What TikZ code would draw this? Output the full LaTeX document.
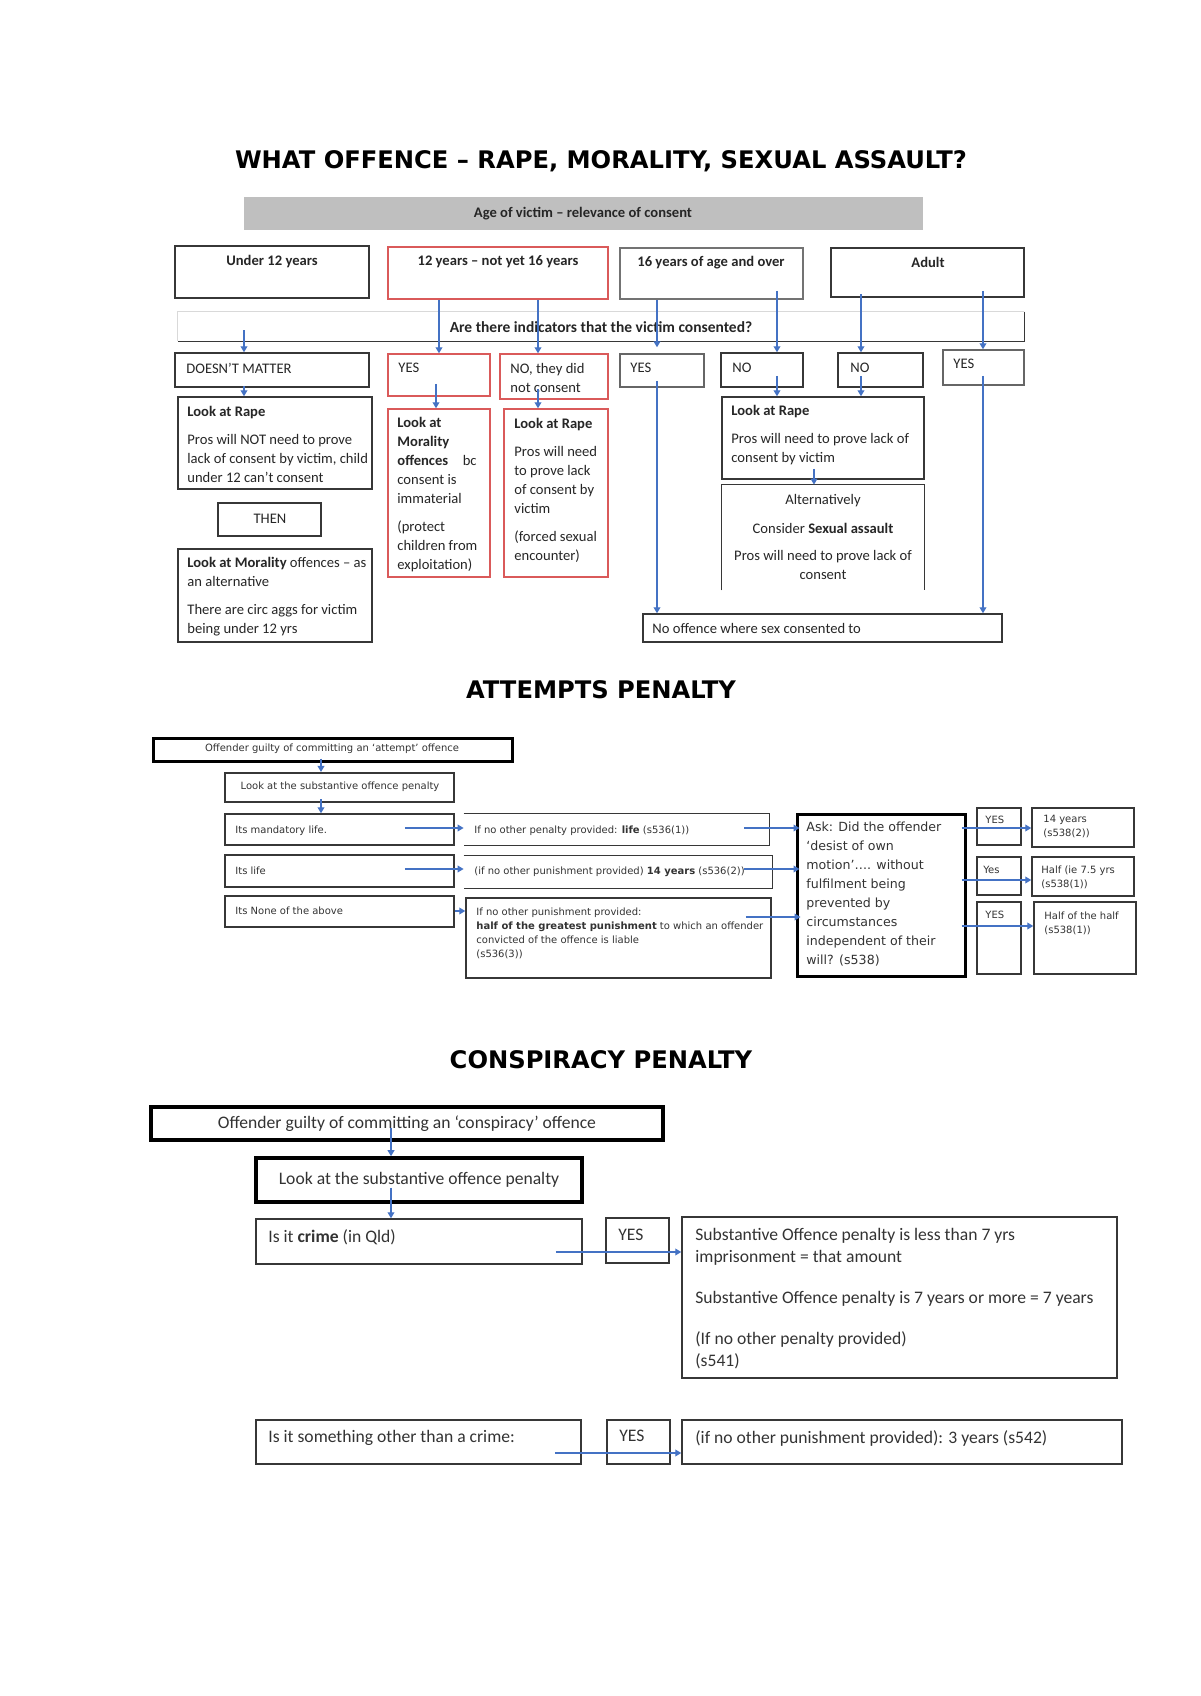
\documentclass[tikz,border=0pt]{standalone}
\usepackage{fontspec}
\setmainfont{Carlito}
\newfontfamily\dvs{DejaVu Sans}
\usetikzlibrary{arrows.meta,fit,calc}
\definecolor{bline}{RGB}{55,55,55}
\definecolor{rline}{RGB}{218,90,90}
\definecolor{ablue}{RGB}{68,114,196}
\definecolor{gfill}{RGB}{191,191,191}
\begin{document}
\begin{tikzpicture}[x=0.5pt,y=-0.5pt,
  bx/.style={draw=bline,line width=0.75pt,inner sep=0pt},
  tbx/.style={draw=black,line width=1.5pt,inner sep=0pt},
  rbx/.style={draw=rline,line width=0.75pt,inner sep=0pt},
  arr/.style={draw=ablue,line width=0.6pt,-{Triangle[width=3.4pt,length=3pt]}},
  ta/.style={inner sep=0pt,anchor=north west,align=left,font=\fontsize{7.3}{9.5}\selectfont,text=black!85},
  tc/.style={ta,anchor=north,align=center},
  da/.style={inner sep=0pt,anchor=north west,align=left,font=\dvs\fontsize{5}{7}\selectfont,text=black!80},
  ca/.style={inner sep=0pt,anchor=north west,align=left,font=\fontsize{8.8}{11}\selectfont,text=black!80},
  ttl/.style={inner sep=0pt,font=\dvs\bfseries\fontsize{12.1}{14}\selectfont}
]
\useasboundingbox (0,0) rectangle (1200,1696);
\fill[white] (0,0) rectangle (1200,1696);

% ---------- x / y markers ----------
\coordinate (X244) at (244,0);
\coordinate (X436) at (436,0);
\coordinate (X538) at (538,0);
\coordinate (X657) at (657,0);
\coordinate (X777) at (777,0);
\coordinate (X814) at (814,0);
\coordinate (X861) at (861,0);
\coordinate (X983) at (983,0);
\coordinate (X321) at (321,0);
\coordinate (X391) at (391,0);
\coordinate (Y828) at (0,828);
\coordinate (Y869) at (0,869);
\coordinate (Y880) at (0,880);
\coordinate (Y911) at (0,911);
\coordinate (Y917) at (0,917);
\coordinate (Y926) at (0,926);
\coordinate (Y1252) at (0,1252);
\coordinate (Y1453) at (0,1453);

% ================= SECTION 1 =================
\node[ttl] (t1) at (601,161) {WHAT OFFENCE – RAPE, MORALITY, SEXUAL ASSAULT?};

\node[fill=gfill,inner sep=0pt,fit={(244,197)(923,230)}] (age) {};
\node[tc] (aget) at (583,207) {\textbf{Age of victim – relevance of consent}};

\node[bx,fit={(175,246)(369,298)}] (u12) {};
\node[tc] (u12t) at (272,255) {\textbf{Under 12 years}};
\node[rbx,fit={(388,247)(608,299)}] (a12) {};
\node[tc] (a12t) at (498,255) {\textbf{12 years – not yet 16 years}};
\node[bx,draw=black!55,fit={(620,248)(803,299)}] (a16) {};
\node[tc] (a16t) at (711,256) {\textbf{16 years of age and over}};
\node[bx,fit={(831,248)(1024,297)}] (adult) {};
\node[tc] (adultt) at (928,257) {\textbf{Adult}};

\node[inner sep=0pt,fit={(178,312)(1024,341)}] (band) {};
\draw[black!15,line width=0.6pt] (band.south west) -- (band.north west) -- (band.north east);
\draw[bline,line width=0.75pt] (band.north east) -- (band.south east) -- (band.south west);
\node[tc,font=\fontsize{7.75}{9.5}\selectfont] (bandt) at (601,321) {\textbf{Are there indicators that the victim consented?}};

\node[bx,fit={(175,353)(369,387)}] (dm) {};
\node[ta] (dmt) at (186,363) {DOESN’T MATTER};
\node[rbx,fit={(388,354)(490,396)}] (yesA) {};
\node[ta] (yesAt) at (398,363) {YES};
\node[rbx,fit={(500,354)(608,399)}] (noA) {};
\node[ta] (noAt) at (510,363) {NO, they did\\not consent};
\node[bx,draw=black!60,fit={(620,354)(704,387)}] (yesB) {};
\node[ta] (yesBt) at (630,363) {YES};
\node[bx,fit={(721,353)(803,387)}] (noB) {};
\node[ta] (noBt) at (732,363) {NO};
\node[bx,fit={(838,353)(923,387)}] (noC) {};
\node[ta] (noCt) at (850,363) {NO};
\node[bx,draw=black!60,fit={(943,350)(1024,385)}] (yesC) {};
\node[ta] (yesCt) at (953,359) {YES};

\node[bx,fit={(178,397)(372,489)}] (rapeL) {};
\node[ta] (rapeLt) at (187,406) {\textbf{Look at Rape}\\[4.5pt]Pros will NOT need to prove\\lack of consent by victim, child\\under 12 can’t consent};
\node[bx,fit={(218,503)(321,536)}] (then) {};
\node[tc] (thent) at (270,514) {THEN};
\node[bx,fit={(178,549)(372,642)}] (moralL) {};
\node[ta] (moralLt) at (187,557) {\textbf{Look at Morality} offences – as\\an alternative\\[4.5pt]There are circ aggs for victim\\being under 12 yrs};

\node[rbx,fit={(388,409)(490,577)}] (moralM) {};
\node[ta] (moralMt) at (397,417) {\textbf{Look at}\\\textbf{Morality}\\\textbf{offences}\quad bc\\consent is\\immaterial\\[4.5pt](protect\\children from\\exploitation)};
\node[rbx,fit={(504,409)(608,577)}] (rapeM) {};
\node[ta] (rapeMt) at (514,418) {\textbf{Look at Rape}\\[4.5pt]Pros will need\\to prove lack\\of consent by\\victim\\[4.5pt](forced sexual\\encounter)};

\node[bx,fit={(722,397)(924,479)}] (rapeR) {};
\node[ta] (rapeRt) at (731,405) {\textbf{Look at Rape}\\[4.5pt]Pros will need to prove lack of\\consent by victim};
\node[inner sep=0pt,fit={(722,485)(924,590)}] (altR) {};
\draw[bx] (altR.south west) -- (altR.north west) -- (altR.north east) -- (altR.south east);
\node[tc] (altRt) at (823,494) {Alternatively\\[5pt]Consider \textbf{Sexual assault}\\[4pt]Pros will need to prove lack of\\consent};

\node[bx,fit={(643,614)(1002,642)}] (noOff) {};
\node[ta] (noOfft) at (652,623) {No offence where sex consented to};

% arrows section 1
\draw[arr] ($(band.south -| X244)+(0,-11)$) -- (dm.north -| X244);
\draw[arr] (a12.south -| yesA.north) -- (yesA.north);
\draw[arr] (a12.south -| X538) -- (noA.north -| X538);
\draw[arr] ($(dm.south -| X244)+(0,-2)$) -- (rapeL.north -| X244);
\draw[arr] ($(yesA.south -| X436)+(0,-13)$) -- (moralM.north -| X436);
\draw[arr] ($(noA.south -| X538)+(0,-11)$) -- (rapeM.north -| X538);
\draw[arr] (a16.south -| X657) -- ($(yesB.north -| X657)+(0,-6)$);
\draw[arr] ($(a16.south -| X777)+(0,-9)$) -- (noB.north -| X777);
\draw[arr] ($(adult.south -| X861)+(0,-4)$) -- (noC.north -| X861);
\draw[arr] ($(adult.south -| X983)+(0,-7)$) -- (yesC.north -| X983);
\draw[arr] ($(noB.south -| X777)+(0,-12)$) -- (rapeR.north -| X777);
\draw[arr] ($(noC.south -| X861)+(0,-12)$) -- (rapeR.north -| X861);
\draw[arr] ($(rapeR.south -| X814)+(0,-11)$) -- (altR.north -| X814);
\draw[arr] ($(yesB.south -| X657)+(0,-7)$) -- (noOff.north -| X657);
\draw[arr] ($(yesC.south -| X983)+(0,-10)$) -- (noOff.north -| X983);

% ================= SECTION 2 =================
\node[ttl] (t2) at (601,690) {ATTEMPTS PENALTY};
\node[tbx,fit={(153,738)(512,761)}] (atO) {};
\node[da,anchor=center] (atOt) at (332,749) {Offender guilty of committing an ‘attempt’ offence};
\node[bx,line width=1.1pt,fit={(225,773)(454,802)}] (atL) {};
\node[da,anchor=center] (atLt) at (340,787) {Look at the substantive offence penalty};
\node[bx,fit={(225,814)(454,845)}] (atM) {};
\node[da] (atMt) at (235,825) {Its mandatory life.};
\node[bx,fit={(225,855)(454,887)}] (atLi) {};
\node[da] (atLit) at (235,866) {Its life};
\node[bx,fit={(225,896)(454,927)}] (atN) {};
\node[da] (atNt) at (235,906) {Its None of the above};

\node[inner sep=0pt,fit={(464,814)(769,845)}] (pM) {};
\draw[bx] (pM.north west) -- (pM.north east) -- (pM.south east) -- (pM.south west);
\node[da] (pMt) at (474,825) {If no other penalty provided: \textbf{life} (s536(1))};
\node[inner sep=0pt,fit={(464,856)(772,888)}] (pL) {};
\draw[bx] (pL.north west) -- (pL.north east) -- (pL.south east) -- (pL.south west);
\node[da] (pLt) at (474,866) {(if no other punishment provided) \textbf{14 years} (s536(2))};
\node[bx,fit={(466,898)(771,978)}] (pN) {};
\node[da] (pNt) at (476,907) {If no other punishment provided:\\\textbf{half of the greatest punishment} to which an offender\\convicted of the offence is liable\\(s536(3))};

\node[tbx,fit={(797,814)(965,976)}] (ask) {};
\node[da,font=\dvs\fontsize{6.3}{9.5}\selectfont] (askt) at (806,822) {Ask: Did the offender\\‘desist of own\\motion’…. without\\fulfilment being\\prevented by\\circumstances\\independent of their\\will? (s538)};

\node[bx,fit={(977,808)(1021,845)}] (y1) {};
\node[da] (y1t) at (985,816) {YES};
\node[bx,fit={(977,857)(1021,895)}] (y2) {};
\node[da] (y2t) at (983,866) {Yes};
\node[bx,fit={(977,902)(1021,974)}] (y3) {};
\node[da] (y3t) at (985,911) {YES};
\node[bx,fit={(1032,808)(1134,847)}] (r1) {};
\node[da] (r1t) at (1043,815) {14 years\\(s538(2))};
\node[bx,fit={(1032,857)(1134,896)}] (r2) {};
\node[da] (r2t) at (1041,865) {Half (ie 7.5 yrs\\(s538(1))};
\node[bx,fit={(1034,902)(1136,974)}] (r3) {};
\node[da] (r3t) at (1044,911) {Half of the half\\(s538(1))};

% arrows section 2
\draw[arr] ($(atO.south -| X321)+(0,-4)$) -- (atL.north -| X321);
\draw[arr] ($(atL.south -| X321)+(0,-4)$) -- (atM.north -| X321);
\draw[arr] ($(atM.east |- Y828)+(-50,0)$) -- (pM.west |- Y828);
\draw[arr] ($(atLi.east |- Y869)+(-50,0)$) -- (pL.west |- Y869);
\draw[arr] (atN.east |- Y911) -- (pN.west |- Y911);
\draw[arr] ($(pM.east |- Y828)+(-25,0)$) -- ($(ask.west |- Y828)+(4,0)$);
\draw[arr] ($(pL.east |- Y869)+(-28,0)$) -- ($(ask.west |- Y869)+(4,0)$);
\draw[arr] ($(pN.east |- Y917)+(-26,0)$) -- ($(ask.west |- Y917)+(5,0)$);
\draw[arr] ($(ask.east |- Y828)+(-5,0)$) -- (r1.west |- Y828);
\draw[arr] ($(ask.east |- Y880)+(-5,0)$) -- (r2.west |- Y880);
\draw[arr] ($(ask.east |- Y926)+(-5,0)$) -- (r3.west |- Y926);

% ================= SECTION 3 =================
\node[ttl] (t3) at (601,1060) {CONSPIRACY PENALTY};
\node[tbx,line width=1.8pt,fit={(151,1107)(663,1140)}] (cO) {};
\node[ca,anchor=center] (cOt) at (407,1124) {Offender guilty of committing an ‘conspiracy’ offence};
\node[tbx,line width=1.8pt,fit={(256,1158)(582,1202)}] (cL) {};
\node[ca,anchor=center] (cLt) at (419,1180) {Look at the substantive offence penalty};
\node[bx,fit={(256,1219)(582,1264)}] (cC) {};
\node[ca] (cCt) at (268,1229) {Is it \textbf{crime} (in Qld)};
\node[bx,fit={(606,1218)(669,1263)}] (cY1) {};
\node[ca] (cY1t) at (618,1229) {YES};
\node[bx,fit={(682,1217)(1117,1378)}] (cS) {};
\node[ca] (cSt) at (695,1228) {Substantive Offence penalty is less than 7 yrs\\imprisonment = that amount\\[9.4pt]Substantive Offence penalty is 7 years or more = 7 years\\[9.4pt](If no other penalty provided)\\(s541)};
\node[bx,fit={(256,1420)(581,1464)}] (cE) {};
\node[ca] (cEt) at (268,1430) {Is it something other than a crime:};
\node[bx,fit={(607,1420)(670,1464)}] (cY2) {};
\node[ca] (cY2t) at (619,1430) {YES};
\node[bx,fit={(682,1420)(1122,1464)}] (cT) {};
\node[ca] (cTt) at (695,1430) {(if no other punishment provided): 3 years (s542)};

% arrows section 3
\draw[arr] ($(cO.south -| X391)+(0,-14)$) -- (cL.north -| X391);
\draw[arr] ($(cL.south -| X391)+(0,-16)$) -- (cC.north -| X391);
\draw[arr] ($(cC.east |- Y1252)+(-27,0)$) -- (cS.west |- Y1252);
\draw[arr] ($(cE.east |- Y1453)+(-27,0)$) -- (cT.west |- Y1453);
\end{tikzpicture}
\end{document}
